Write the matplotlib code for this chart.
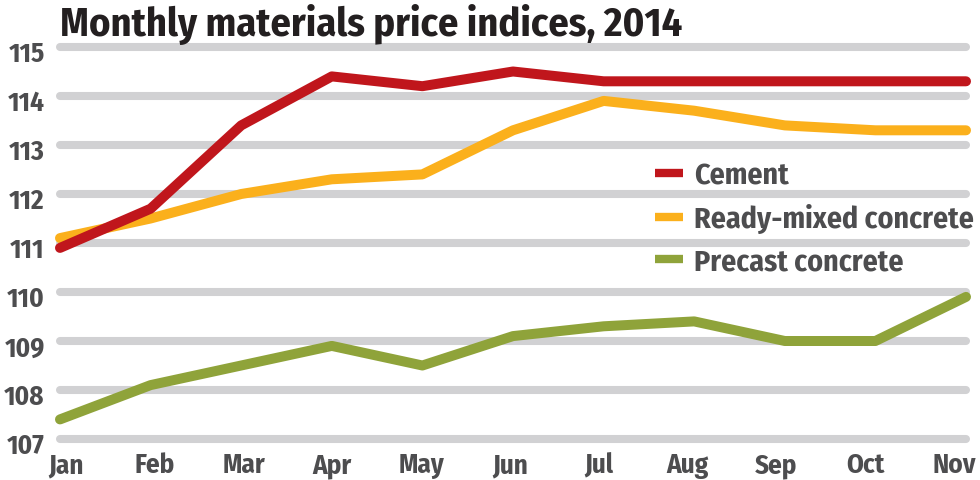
import matplotlib
matplotlib.use("Agg")
import matplotlib.pyplot as plt
from matplotlib.transforms import ScaledTranslation

plt.rcParams['font.family'] = ['Fira Sans Condensed', 'Roboto Condensed', 'DejaVu Sans']
plt.rcParams['font.weight'] = 'bold'

months = ['Jan', 'Feb', 'Mar', 'Apr', 'May', 'Jun', 'Jul', 'Aug', 'Sep', 'Oct', 'Nov']
cement = [110.9, 111.7, 113.4, 114.4, 114.2, 114.5, 114.3, 114.3, 114.3, 114.3, 114.3]
ready_mixed = [111.1, 111.5, 112.0, 112.3, 112.4, 113.3, 113.9, 113.7, 113.4, 113.3, 113.3]
precast = [107.4, 108.1, 108.5, 108.9, 108.5, 109.1, 109.3, 109.4, 109.0, 109.0, 109.9]
yticks = [107, 108, 109, 110, 111, 112, 113, 114, 115]

W, H = 980, 481
fig = plt.figure(figsize=(W / 100, H / 100), dpi=100)
# axes placed in pixel units
ax = fig.add_axes([60 / W, (H - 440) / H, (966 - 60) / W, (440 - 48) / H])

x = list(range(len(months)))
ax.plot(x, cement, color='#c0161c', lw=7.2, solid_capstyle='round',
        solid_joinstyle='round', clip_on=False, label='Cement', zorder=5)
ax.plot(x, ready_mixed, color='#fbb01c', lw=7.2, solid_capstyle='round',
        solid_joinstyle='round', clip_on=False, label='Ready-mixed concrete', zorder=4)
ax.plot(x, precast, color='#8fa33a', lw=7.2, solid_capstyle='round',
        solid_joinstyle='round', clip_on=False, label='Precast concrete', zorder=3)

ax.set_xlim(0, len(months) - 1)
ax.set_ylim(107, 115)
ax.set_yticks(yticks)
ax.set_yticklabels([str(v) for v in yticks])
ax.set_xticks(x)
ax.set_xticklabels(months)

ax.grid(axis='y', color='#d1d1d3', lw=5.8, solid_capstyle='round', clip_on=False)
ax.set_axisbelow(True)
for s in ax.spines.values():
    s.set_visible(False)
ax.tick_params(axis='both', length=0, colors='#4d4d4f')
ax.tick_params(axis='y', labelsize=19.5, pad=11)
ax.tick_params(axis='x', labelsize=19.5, pad=9)
for lab in ax.get_yticklabels():
    lab.set_transform(lab.get_transform() + ScaledTranslation(0, -4 / 100, fig.dpi_scale_trans))
# month labels sit on a slightly tighter spacing than the data points
for i, lab in enumerate(ax.get_xticklabels()):
    dx = 6 - 1.8 * i
    lab.set_transform(lab.get_transform() + ScaledTranslation(dx / 100, 0, fig.dpi_scale_trans))

fig.text(60 / W, 1 - 4 / H, 'Monthly materials price indices, 2014', fontsize=29,
         fontweight='bold', color='#231f20', ha='left', va='top')

leg = ax.legend(loc='upper left', bbox_to_anchor=(655 / W, 1 - 163 / H),
                bbox_transform=fig.transFigure, frameon=False, fontsize=21.5,
                handlelength=0.95, handletextpad=0.35, labelspacing=0.45,
                borderpad=0, borderaxespad=0)
for t in leg.get_texts():
    t.set_color('#4d4d4f')
for l in leg.get_lines():
    l.set_linewidth(6)
    l.set_solid_capstyle('butt')

fig.savefig('out.png', dpi=100)
